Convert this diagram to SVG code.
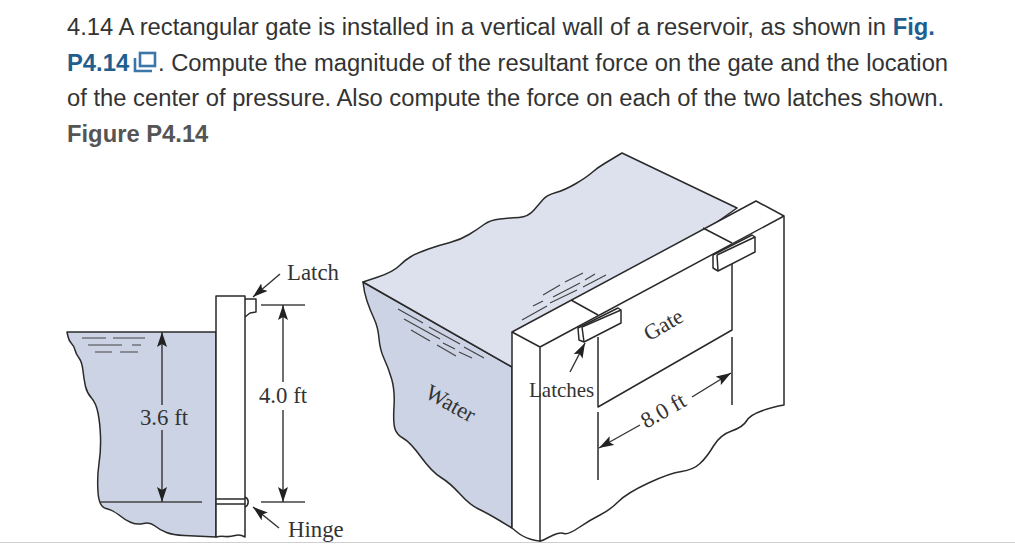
<svg xmlns="http://www.w3.org/2000/svg" width="1015" height="559" viewBox="0 0 1015 559">
<defs>
<marker id="a" markerUnits="userSpaceOnUse" markerWidth="16" markerHeight="10" refX="15" refY="5" orient="auto-start-reverse"><path d="M0 0L15 5L0 10L3 5Z" fill="#222"/></marker>
</defs>
<style>
.t{font-family:"Liberation Sans",Arial,sans-serif;font-size:23.78px;fill:#333}
.b{font-weight:700}
.lk{fill:#1f5f8f}
.f{font-family:"Liberation Serif","Times New Roman",serif;font-size:22.8px;fill:#333}
.m{text-anchor:middle}
.l{fill:none;stroke:#2a2a2a;stroke-width:1.5;stroke-linejoin:round}
.d{fill:none;stroke:#444;stroke-width:1.2}
.ar{fill:none;stroke:#333;stroke-width:1.4;marker-end:url(#a)}
</style>
<rect width="1015" height="559" fill="#fff"/>
<g id="question">
<text class="t" x="67" y="35">4.14 A rectangular gate is installed in a vertical wall of a reservoir, as shown in <tspan class="b lk">Fig.</tspan></text>
<text class="t b lk" x="67" y="71">P4.14</text>
<g id="icon" fill="none" stroke="#3a76a8" stroke-width="2.6"><rect x="140" y="53" width="15" height="13"/><path d="M135 58V71H152"/></g>
<text class="t" x="158" y="71">. Compute the magnitude of the resultant force on the gate and the location</text>
<text class="t" x="67" y="106">of the center of pressure. Also compute the force on each of the two latches shown.</text>
<text class="t b" x="67" y="142" style="fill:#555">Figure P4.14</text>
</g>
<g id="side-water">
<path class="l" style="fill:#ccd3e5" d="M216 332H67L68 336.5Q69 341 71.500 343.500Q74 346 75 350Q76 354 79 358Q82 362 83 371Q84 380 85.500 386.500Q87 393 91.500 398Q96 403 98 413Q100 423 100.500 436.500Q101 450 99 463.500Q97 477 98 492Q99 507 106 508.500Q113 510 119 515Q125 520 131 522.500Q137 525 143.500 523.500Q150 522 155 526Q160 530 166.500 532.500Q173 535 184 535.500Q195 536 216 537Z"/>
<path class="d" d="M82 338H106M113 338H145M88 345H122M132 345H141M95 352H112M120 352H138"/>
</g>
<g id="side-gate">
<path class="l" style="fill:#fff" d="M216 537V296H245V537Q240 534 235 535.500T225 536.500T216 537Z"/>
<path class="l" d="M216 499H245M216 504H245"/>
<path class="l" d="M245 497A5.500 5.500 0 0 1 245 507"/>
<path class="l" d="M245 299H256V312L250 313L245 317"/>
<path class="d" style="stroke-width:1.4" d="M261 305H305M261 502H305M99 502H202"/>
</g>
<g id="iso-water">
<path class="l" style="fill:#ccd3e5" d="M363 282L512 367V528L499.500 520.500Q487 513 478.500 509Q470 505 460 494Q450 483 441 477.500Q432 472 421 457Q410 442 403.500 438.500Q397 435 395 429Q393 423 394 406.500Q395 390 391.500 378.500Q388 367 384 358.500Q380 350 379 338.500Q378 327 374 318.500Q370 310 367 301Q364 292 363 282Z"/>
<path class="l" style="fill:#dde1ee" d="M363 282L378 277Q393 272 399 266Q405 260 411 256.500Q417 253 428.500 249Q440 245 450 242.500Q460 240 469 234.500Q478 229 484 224.500Q490 220 500 219Q510 218 519 217.500Q528 217 534 210Q540 203 543.500 199Q547 195 556 192.500Q565 190 576 183.500Q587 177 592 172.500Q597 168 604.500 163.500Q612 159 617 156L622 153L737 208L512 367Z"/>
<path class="d" d="M398 309L423 323M429 327L460 344M464 347L484 358M404 319L440 339M443 343L455 349M459 352L472 358M411 330L430 341M437 345L456 356"/>
</g>
<g id="iso-wall">
<path class="l" style="fill:#fff" d="M512 332L756 201L784 216V405L778.500 406Q773 407 761.500 411Q750 415 746.500 421Q743 427 731.500 431Q720 435 713.500 446Q707 457 700 463.500Q693 470 681.500 471.500Q670 473 648.500 483Q627 493 618.500 501.500Q610 510 600 515Q590 520 579 527.500Q568 535 564 533.500Q560 532 553.500 535Q547 538 543.500 540Q540 542 531.500 539.500Q523 537 517.500 532.500L512 528Z"/>
<path class="l" d="M512 332L540 347L784 216M540 347V542"/>
<path class="l" d="M571 300L598 315M703 228L732 243"/>
<path class="l" d="M598 337V407L732 330V263"/>
<path class="l" d="M598 412V480M732 337V405"/>
<path class="d" d="M522 320L547 306M533 306L543 301M543 295L560 285M553 297L580 283M550 303L577 290M565 282L583 273M585 280L595 274M583 287L606 275"/>
</g>
<g id="latch-left"><path class="l" style="fill:#fff" d="M578 328L618 308L621 310V323L584 342L579 340Z"/><path class="l" d="M582 327L621 310M582 327L584 342"/></g>
<g id="latch-right"><path class="l" style="fill:#fff" d="M713 255L752 235L755 237V252L718 271L713 268Z"/><path class="l" d="M717 255L755 237M717 255L718 271"/></g>
<g id="connectors">
<path class="ar" d="M283 382V305"/><path class="ar" d="M283 410V502"/>
<path class="ar" d="M162 405V332"/><path class="ar" d="M162 430V502"/>
<path class="ar" d="M280 274L253 297"/><path class="ar" d="M279 528L253 507"/>
<path class="ar" d="M570 372L585 343"/>
<path class="ar" d="M640 425L599 448"/><path class="ar" d="M692 397L731 373"/>
</g>
<g id="labels">
<text class="f" x="287" y="280">Latch</text>
<text class="f" x="288" y="537">Hinge</text>
<text class="f m" x="283" y="403">4.0 ft</text>
<text class="f m" x="164" y="425">3.6 ft</text>
<text class="f" x="529" y="397" style="font-size:21px">Latches</text>
<text class="f m" transform="translate(447 410) rotate(29)" style="font-size:22.500px">Water</text>
<text class="f m" transform="translate(667 331) rotate(-30)" style="font-size:22px">Gate</text>
<text class="f m" transform="translate(667 417) rotate(-30)">8.0 ft</text>
</g>
<rect x="0" y="542" width="1015" height="17" fill="#fff"/>
<path d="M0 542.500H1015" stroke="#cfcfcf" stroke-width="1"/>
</svg>
